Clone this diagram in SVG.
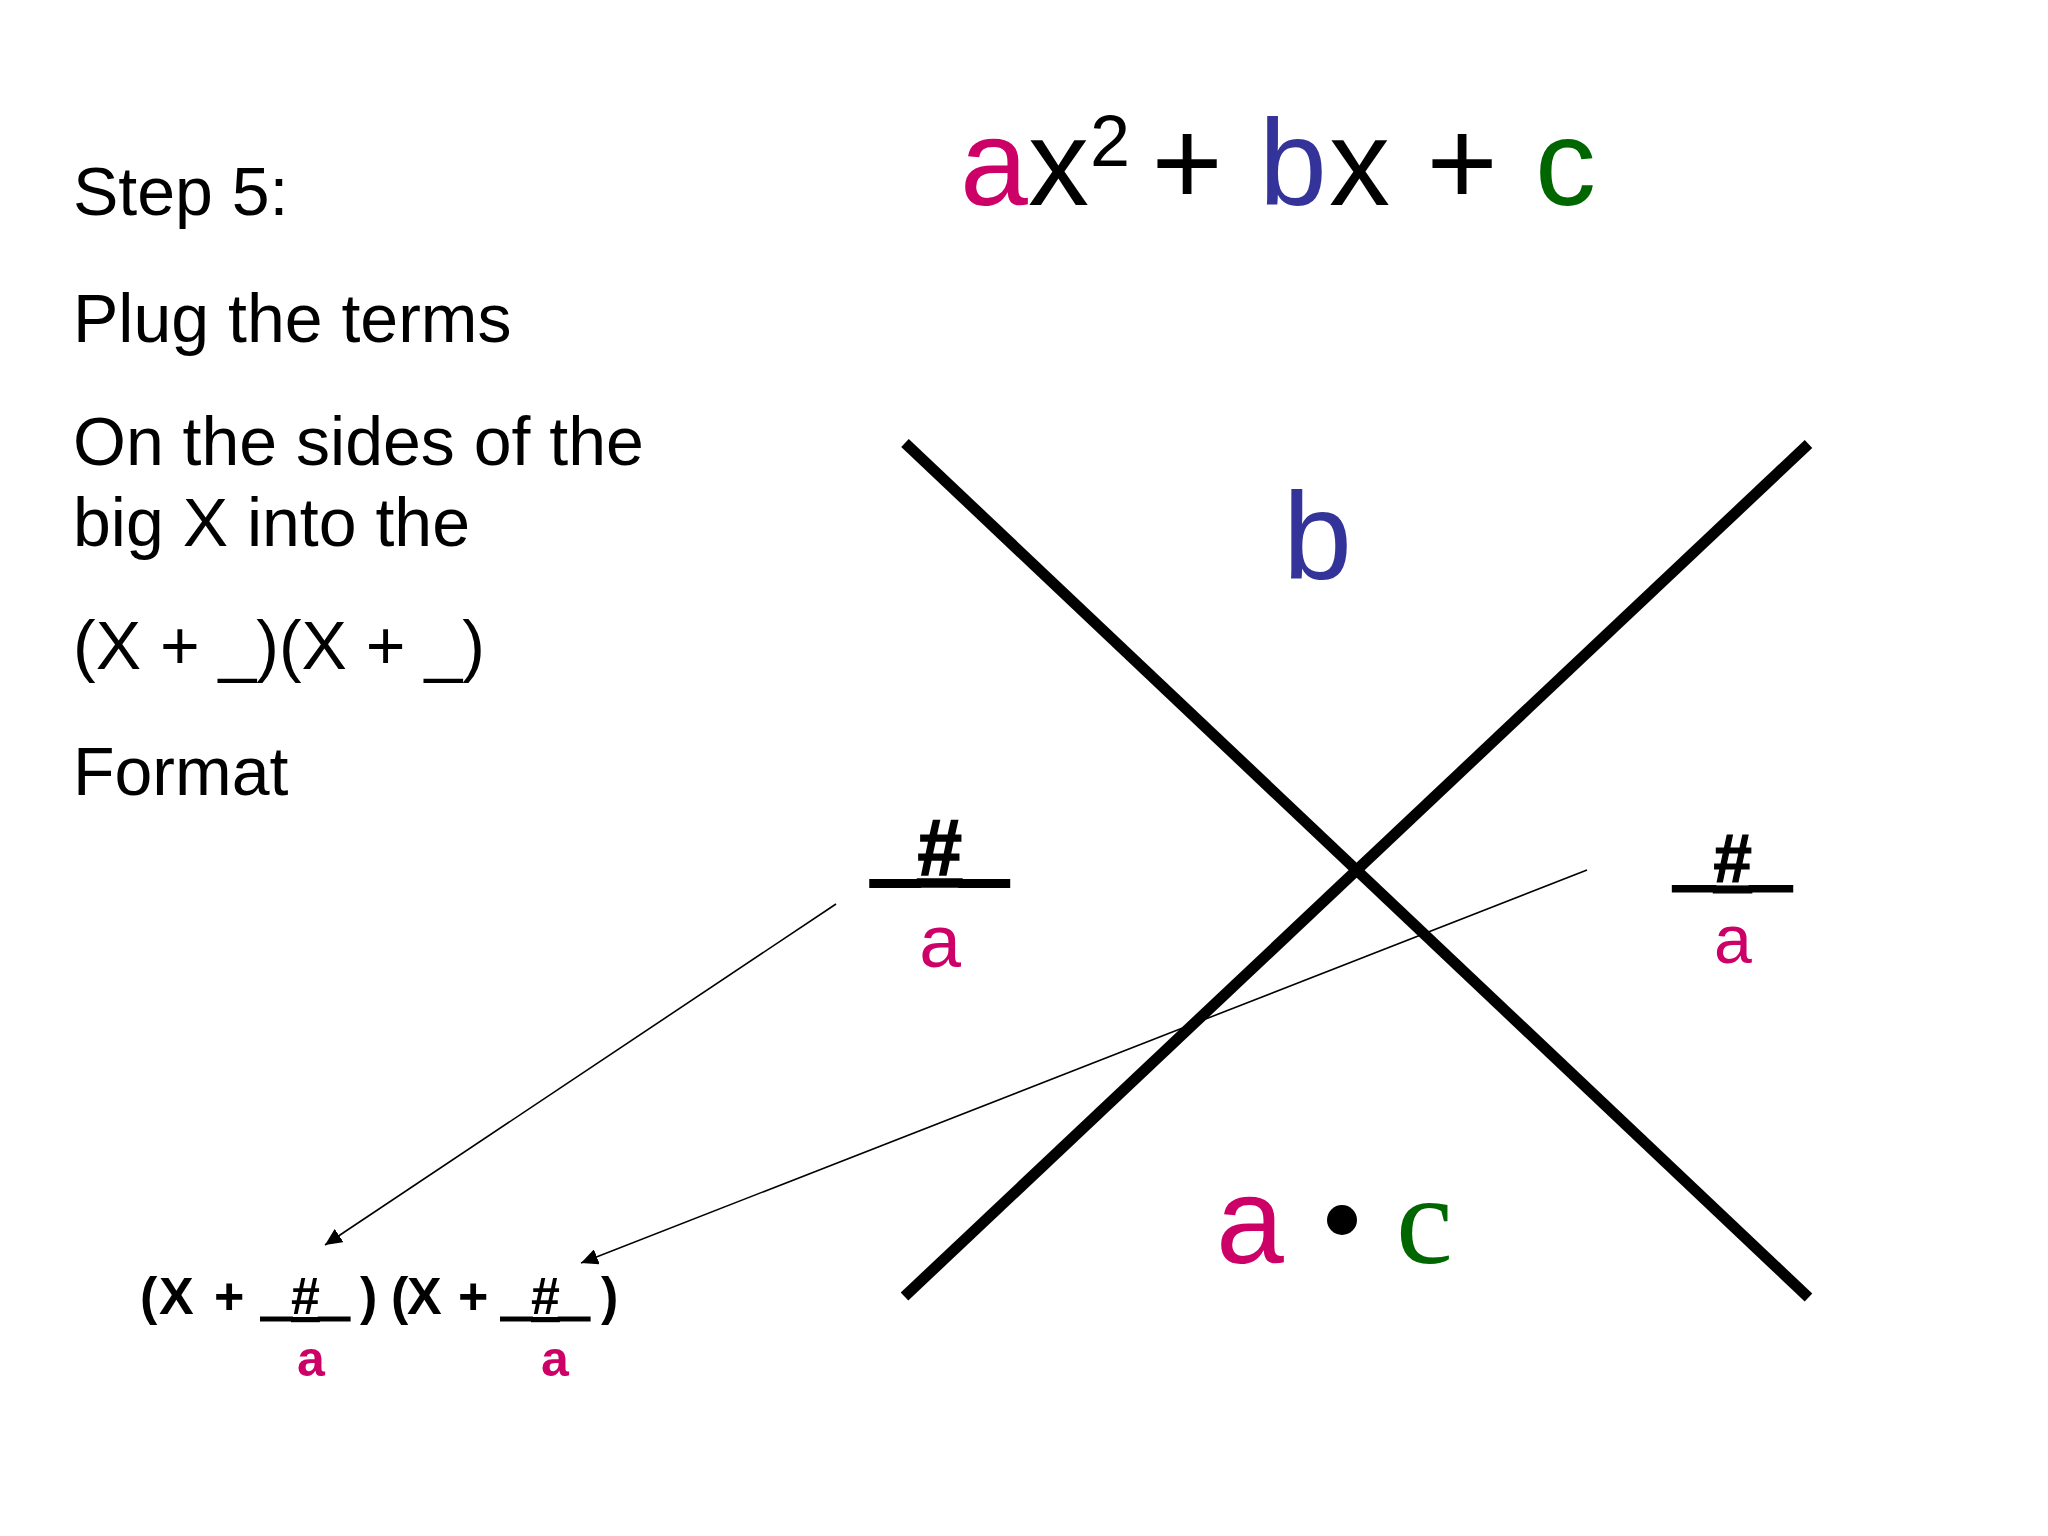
<svg xmlns="http://www.w3.org/2000/svg" width="2048" height="1536" viewBox="0 0 2048 1536">
  <defs>
    <style>
      text { font-family: "Liberation Sans", Arial, sans-serif; }
      .body { font-size: 68px; fill: #000; }
      .title { font-size: 122px; }
      .bold { font-weight: bold; fill: #000; }
      .serif { font-family: "Liberation Serif", "Times New Roman", serif; }
      .mag { fill: #CC0066; }
      .blue { fill: #333399; }
      .green { fill: #006600; }
      .blk { fill: #000; }
      .us80 { stroke: #000; stroke-width: 6px; }
      .us69 { stroke: #000; stroke-width: 5px; }
      .us52 { stroke: #000; stroke-width: 3px; }
      .hash80 { stroke: #000; stroke-width: 1.5px; text-decoration: underline; text-decoration-thickness: 5px; text-underline-offset: 4px; }
      .hash69 { stroke: #000; stroke-width: 1.2px; text-decoration: underline; text-decoration-thickness: 4px; text-underline-offset: 3px; }
      .hash52 { text-decoration: underline; text-decoration-thickness: 2.5px; text-underline-offset: 2px; }
      .xline { stroke: #000; stroke-width: 11; fill: none; }
      .arrow { stroke: #000; stroke-width: 1.6; fill: none; marker-end: url(#ah); }
    </style>
    <marker id="ah" markerUnits="userSpaceOnUse" markerWidth="18" markerHeight="16" refX="17" refY="8" orient="auto">
      <path d="M0,0 L17,8 L0,16 Z" fill="#000"/>
    </marker>
  </defs>
  <rect width="2048" height="1536" fill="#fff"/>

  <g id="instructions">
    <text class="body" x="73" y="215">Step 5:</text>
    <text class="body" x="73" y="342">Plug the terms</text>
    <text class="body" x="73" y="465">On the sides of the</text>
    <text class="body" x="73" y="546">big X into the</text>
    <text class="body" x="73" y="669">(X + _)(X + _)</text>
    <text class="body" x="73" y="795">Format</text>
  </g>

  <g id="equation">
    <text class="title mag" x="960" y="205">a</text>
    <text class="title blk" x="1028" y="205">x</text>
    <text class="blk" x="1090" y="166" font-size="72">2</text>
    <text class="title blk" x="1187" y="205" text-anchor="middle">+</text>
    <text class="title blue" x="1259" y="205">b</text>
    <text class="title blk" x="1329" y="205">x</text>
    <text class="title blk" x="1462" y="205" text-anchor="middle">+</text>
    <text class="title green" x="1535" y="205">c</text>
  </g>

  <g id="big-x">
    <line class="xline" x1="905" y1="443" x2="1808.5" y2="1297.5"/>
    <line class="xline" x1="904.5" y1="1296.5" x2="1808.5" y2="444"/>
  </g>

  <g id="b-top">
    <text class="blue" x="1283" y="579" font-size="124">b</text>
  </g>

  <g id="ac-bottom">
    <text class="mag" x="1216" y="1263" font-size="122">a</text>
    <circle cx="1342" cy="1220" r="15" fill="#000"/>
    <text class="serif green" x="1396" y="1263" font-size="128">c</text>
  </g>

  <g id="left-fraction">
    <text class="bold" x="873" y="875" font-size="80"><tspan class="us80">_</tspan><tspan class="hash80">#</tspan><tspan class="us80">_</tspan></text>
    <text class="mag" x="940" y="967" font-size="75" text-anchor="middle">a</text>
  </g>

  <g id="right-fraction">
    <text class="bold" x="1675" y="882" font-size="69"><tspan class="us69">_</tspan><tspan class="hash69">#</tspan><tspan class="us69">_</tspan></text>
    <text class="mag" x="1733" y="963" font-size="68" text-anchor="middle">a</text>
  </g>

  <g id="factored-form">
    <text class="bold" y="1314" font-size="52"><tspan x="140">(</tspan><tspan x="159">X</tspan><tspan x="214">+</tspan><tspan class="us52" x="262">_</tspan><tspan class="hash52">#</tspan><tspan class="us52">_</tspan><tspan x="360">)</tspan><tspan x="391">(</tspan><tspan x="407">X</tspan><tspan x="458">+</tspan><tspan class="us52" x="502">_</tspan><tspan class="hash52">#</tspan><tspan class="us52">_</tspan><tspan x="601">)</tspan></text>
    <text class="bold mag" x="311" y="1376" font-size="50" text-anchor="middle">a</text>
    <text class="bold mag" x="555" y="1376" font-size="50" text-anchor="middle">a</text>
  </g>

  <g id="connectors">
    <line class="arrow" x1="836" y1="904" x2="325" y2="1245"/>
    <line class="arrow" x1="1587" y1="870" x2="581" y2="1263"/>
  </g>
</svg>
